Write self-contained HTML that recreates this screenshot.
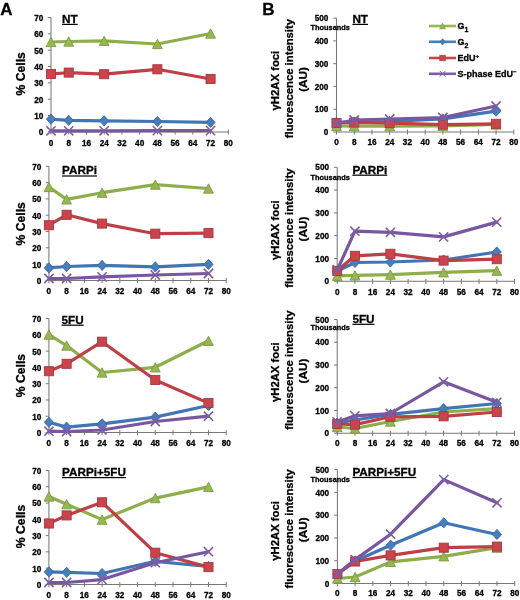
<!DOCTYPE html>
<html><head><meta charset="utf-8"><style>
html,body{margin:0;padding:0;background:#fff;width:520px;height:600px;overflow:hidden}
svg{display:block;filter:blur(0.35px)}
</style></head><body>
<svg width="520" height="600" viewBox="0 0 520 600">
<rect width="520" height="600" fill="#fff"/>
<g id="underlines" fill="#000">
<rect x="62.10" y="23.80" width="15.60" height="1.2"/>
<rect x="62.10" y="175.40" width="34.89" height="1.2"/>
<rect x="61.60" y="324.60" width="22.10" height="1.2"/>
<rect x="62.10" y="477.00" width="63.82" height="1.2"/>
<rect x="352.40" y="23.80" width="15.60" height="1.2"/>
<rect x="352.40" y="174.60" width="34.89" height="1.2"/>
<rect x="352.40" y="323.70" width="22.10" height="1.2"/>
<rect x="352.40" y="476.90" width="63.82" height="1.2"/>
</g>
<text x="0.3" y="15.3" font-family="&apos;Liberation Sans&apos;, sans-serif" font-weight="bold" stroke="#000" stroke-width="0.3" font-size="17">A</text>
<text x="262.3" y="15.3" font-family="&apos;Liberation Sans&apos;, sans-serif" font-weight="bold" stroke="#000" stroke-width="0.3" font-size="17">B</text>
<path d="M51.00,17.50V131.90H228.30" stroke="#787878" stroke-width="1.05" fill="none"/>
<path d="M47.80,131.90H51.00 M47.80,115.56H51.00 M47.80,99.21H51.00 M47.80,82.87H51.00 M47.80,66.53H51.00 M47.80,50.19H51.00 M47.80,33.84H51.00 M47.80,17.50H51.00 M51.00,129.50V134.50 M68.73,129.50V134.50 M86.46,129.50V134.50 M104.19,129.50V134.50 M121.92,129.50V134.50 M139.65,129.50V134.50 M157.38,129.50V134.50 M175.11,129.50V134.50 M192.84,129.50V134.50 M210.57,129.50V134.50 M228.30,129.50V134.50" stroke="#787878" stroke-width="1.0" fill="none"/>
<text x="43.40" y="135.30" text-anchor="end" font-family="&apos;Liberation Sans&apos;, sans-serif" font-weight="bold" stroke="#000" stroke-width="0.3" font-size="8.2">0</text>
<text x="43.40" y="118.96" text-anchor="end" font-family="&apos;Liberation Sans&apos;, sans-serif" font-weight="bold" stroke="#000" stroke-width="0.3" font-size="8.2">10</text>
<text x="43.40" y="102.61" text-anchor="end" font-family="&apos;Liberation Sans&apos;, sans-serif" font-weight="bold" stroke="#000" stroke-width="0.3" font-size="8.2">20</text>
<text x="43.40" y="86.27" text-anchor="end" font-family="&apos;Liberation Sans&apos;, sans-serif" font-weight="bold" stroke="#000" stroke-width="0.3" font-size="8.2">30</text>
<text x="43.40" y="69.93" text-anchor="end" font-family="&apos;Liberation Sans&apos;, sans-serif" font-weight="bold" stroke="#000" stroke-width="0.3" font-size="8.2">40</text>
<text x="43.40" y="53.59" text-anchor="end" font-family="&apos;Liberation Sans&apos;, sans-serif" font-weight="bold" stroke="#000" stroke-width="0.3" font-size="8.2">50</text>
<text x="43.40" y="37.24" text-anchor="end" font-family="&apos;Liberation Sans&apos;, sans-serif" font-weight="bold" stroke="#000" stroke-width="0.3" font-size="8.2">60</text>
<text x="43.40" y="20.90" text-anchor="end" font-family="&apos;Liberation Sans&apos;, sans-serif" font-weight="bold" stroke="#000" stroke-width="0.3" font-size="8.2">70</text>
<text x="51.00" y="145.70" text-anchor="middle" font-family="&apos;Liberation Sans&apos;, sans-serif" font-weight="bold" stroke="#000" stroke-width="0.3" font-size="8.2">0</text>
<text x="68.73" y="145.70" text-anchor="middle" font-family="&apos;Liberation Sans&apos;, sans-serif" font-weight="bold" stroke="#000" stroke-width="0.3" font-size="8.2">8</text>
<text x="86.46" y="145.70" text-anchor="middle" font-family="&apos;Liberation Sans&apos;, sans-serif" font-weight="bold" stroke="#000" stroke-width="0.3" font-size="8.2">16</text>
<text x="104.19" y="145.70" text-anchor="middle" font-family="&apos;Liberation Sans&apos;, sans-serif" font-weight="bold" stroke="#000" stroke-width="0.3" font-size="8.2">24</text>
<text x="121.92" y="145.70" text-anchor="middle" font-family="&apos;Liberation Sans&apos;, sans-serif" font-weight="bold" stroke="#000" stroke-width="0.3" font-size="8.2">32</text>
<text x="139.65" y="145.70" text-anchor="middle" font-family="&apos;Liberation Sans&apos;, sans-serif" font-weight="bold" stroke="#000" stroke-width="0.3" font-size="8.2">40</text>
<text x="157.38" y="145.70" text-anchor="middle" font-family="&apos;Liberation Sans&apos;, sans-serif" font-weight="bold" stroke="#000" stroke-width="0.3" font-size="8.2">48</text>
<text x="175.11" y="145.70" text-anchor="middle" font-family="&apos;Liberation Sans&apos;, sans-serif" font-weight="bold" stroke="#000" stroke-width="0.3" font-size="8.2">56</text>
<text x="192.84" y="145.70" text-anchor="middle" font-family="&apos;Liberation Sans&apos;, sans-serif" font-weight="bold" stroke="#000" stroke-width="0.3" font-size="8.2">64</text>
<text x="210.57" y="145.70" text-anchor="middle" font-family="&apos;Liberation Sans&apos;, sans-serif" font-weight="bold" stroke="#000" stroke-width="0.3" font-size="8.2">72</text>
<text x="228.30" y="145.70" text-anchor="middle" font-family="&apos;Liberation Sans&apos;, sans-serif" font-weight="bold" stroke="#000" stroke-width="0.3" font-size="8.2">80</text>
<text x="62.10" y="22.70" font-family="&apos;Liberation Sans&apos;, sans-serif" font-weight="bold" stroke="#000" stroke-width="0.3" font-size="11.7">NT</text>
<path d="M51.00,42.00 L68.73,41.50 L104.19,40.80 L157.38,44.00 L210.57,33.50" stroke="#8eae4c" stroke-width="3.2" fill="none" stroke-linejoin="round" stroke-linecap="round"/>
<polygon points="46.10,46.65 55.90,46.65 51.00,37.35" fill="#95b853" stroke="#7d9c3f" stroke-width="0.90" stroke-linejoin="miter"/>
<polygon points="63.83,46.15 73.63,46.15 68.73,36.85" fill="#95b853" stroke="#7d9c3f" stroke-width="0.90" stroke-linejoin="miter"/>
<polygon points="99.29,45.45 109.09,45.45 104.19,36.15" fill="#95b853" stroke="#7d9c3f" stroke-width="0.90" stroke-linejoin="miter"/>
<polygon points="152.48,48.65 162.28,48.65 157.38,39.35" fill="#95b853" stroke="#7d9c3f" stroke-width="0.90" stroke-linejoin="miter"/>
<polygon points="205.67,38.15 215.47,38.15 210.57,28.85" fill="#95b853" stroke="#7d9c3f" stroke-width="0.90" stroke-linejoin="miter"/>
<path d="M51.00,119.20 L68.73,120.40 L104.19,120.80 L157.38,121.50 L210.57,122.30" stroke="#4275b6" stroke-width="3.2" fill="none" stroke-linejoin="round" stroke-linecap="round"/>
<polygon points="51.00,114.10 55.60,119.20 51.00,124.30 46.40,119.20" fill="#477dbd" stroke="#3a6aa6" stroke-width="0.90"/>
<polygon points="68.73,115.30 73.33,120.40 68.73,125.50 64.13,120.40" fill="#477dbd" stroke="#3a6aa6" stroke-width="0.90"/>
<polygon points="104.19,115.70 108.79,120.80 104.19,125.90 99.59,120.80" fill="#477dbd" stroke="#3a6aa6" stroke-width="0.90"/>
<polygon points="157.38,116.40 161.98,121.50 157.38,126.60 152.78,121.50" fill="#477dbd" stroke="#3a6aa6" stroke-width="0.90"/>
<polygon points="210.57,117.20 215.17,122.30 210.57,127.40 205.97,122.30" fill="#477dbd" stroke="#3a6aa6" stroke-width="0.90"/>
<path d="M51.00,74.00 L68.73,72.60 L104.19,74.20 L157.38,69.30 L210.57,79.00" stroke="#bf3f47" stroke-width="3.2" fill="none" stroke-linejoin="round" stroke-linecap="round"/>
<rect x="46.45" y="69.45" width="9.10" height="9.10" fill="#c9444b" stroke="#a9383d" stroke-width="0.90"/>
<rect x="64.18" y="68.05" width="9.10" height="9.10" fill="#c9444b" stroke="#a9383d" stroke-width="0.90"/>
<rect x="99.64" y="69.65" width="9.10" height="9.10" fill="#c9444b" stroke="#a9383d" stroke-width="0.90"/>
<rect x="152.83" y="64.75" width="9.10" height="9.10" fill="#c9444b" stroke="#a9383d" stroke-width="0.90"/>
<rect x="206.02" y="74.45" width="9.10" height="9.10" fill="#c9444b" stroke="#a9383d" stroke-width="0.90"/>
<path d="M51.00,130.80 L68.73,130.80 L104.19,130.80 L157.38,130.60 L210.57,130.60" stroke="#7857a0" stroke-width="3.2" fill="none" stroke-linejoin="round" stroke-linecap="round"/>
<path d="M46.40,126.20L55.60,135.40M55.60,126.20L46.40,135.40" stroke="#7d5ea5" stroke-width="1.60" fill="none"/>
<path d="M64.13,126.20L73.33,135.40M73.33,126.20L64.13,135.40" stroke="#7d5ea5" stroke-width="1.60" fill="none"/>
<path d="M99.59,126.20L108.79,135.40M108.79,126.20L99.59,135.40" stroke="#7d5ea5" stroke-width="1.60" fill="none"/>
<path d="M152.78,126.00L161.98,135.20M161.98,126.00L152.78,135.20" stroke="#7d5ea5" stroke-width="1.60" fill="none"/>
<path d="M205.97,126.00L215.17,135.20M215.17,126.00L205.97,135.20" stroke="#7d5ea5" stroke-width="1.60" fill="none"/>
<text transform="translate(25.2,73.80) rotate(-90)" text-anchor="middle" font-family="&apos;Liberation Sans&apos;, sans-serif" font-weight="bold" stroke="#000" stroke-width="0.3" font-size="12.2">% Cells</text>
<path d="M48.90,166.30V280.40H226.20" stroke="#787878" stroke-width="1.05" fill="none"/>
<path d="M45.70,280.40H48.90 M45.70,264.10H48.90 M45.70,247.80H48.90 M45.70,231.50H48.90 M45.70,215.20H48.90 M45.70,198.90H48.90 M45.70,182.60H48.90 M45.70,166.30H48.90 M48.90,278.00V283.00 M66.63,278.00V283.00 M84.36,278.00V283.00 M102.09,278.00V283.00 M119.82,278.00V283.00 M137.55,278.00V283.00 M155.28,278.00V283.00 M173.01,278.00V283.00 M190.74,278.00V283.00 M208.47,278.00V283.00 M226.20,278.00V283.00" stroke="#787878" stroke-width="1.0" fill="none"/>
<text x="41.30" y="283.80" text-anchor="end" font-family="&apos;Liberation Sans&apos;, sans-serif" font-weight="bold" stroke="#000" stroke-width="0.3" font-size="8.2">0</text>
<text x="41.30" y="267.50" text-anchor="end" font-family="&apos;Liberation Sans&apos;, sans-serif" font-weight="bold" stroke="#000" stroke-width="0.3" font-size="8.2">10</text>
<text x="41.30" y="251.20" text-anchor="end" font-family="&apos;Liberation Sans&apos;, sans-serif" font-weight="bold" stroke="#000" stroke-width="0.3" font-size="8.2">20</text>
<text x="41.30" y="234.90" text-anchor="end" font-family="&apos;Liberation Sans&apos;, sans-serif" font-weight="bold" stroke="#000" stroke-width="0.3" font-size="8.2">30</text>
<text x="41.30" y="218.60" text-anchor="end" font-family="&apos;Liberation Sans&apos;, sans-serif" font-weight="bold" stroke="#000" stroke-width="0.3" font-size="8.2">40</text>
<text x="41.30" y="202.30" text-anchor="end" font-family="&apos;Liberation Sans&apos;, sans-serif" font-weight="bold" stroke="#000" stroke-width="0.3" font-size="8.2">50</text>
<text x="41.30" y="186.00" text-anchor="end" font-family="&apos;Liberation Sans&apos;, sans-serif" font-weight="bold" stroke="#000" stroke-width="0.3" font-size="8.2">60</text>
<text x="41.30" y="169.70" text-anchor="end" font-family="&apos;Liberation Sans&apos;, sans-serif" font-weight="bold" stroke="#000" stroke-width="0.3" font-size="8.2">70</text>
<text x="48.90" y="293.65" text-anchor="middle" font-family="&apos;Liberation Sans&apos;, sans-serif" font-weight="bold" stroke="#000" stroke-width="0.3" font-size="8.2">0</text>
<text x="66.63" y="293.65" text-anchor="middle" font-family="&apos;Liberation Sans&apos;, sans-serif" font-weight="bold" stroke="#000" stroke-width="0.3" font-size="8.2">8</text>
<text x="84.36" y="293.65" text-anchor="middle" font-family="&apos;Liberation Sans&apos;, sans-serif" font-weight="bold" stroke="#000" stroke-width="0.3" font-size="8.2">16</text>
<text x="102.09" y="293.65" text-anchor="middle" font-family="&apos;Liberation Sans&apos;, sans-serif" font-weight="bold" stroke="#000" stroke-width="0.3" font-size="8.2">24</text>
<text x="119.82" y="293.65" text-anchor="middle" font-family="&apos;Liberation Sans&apos;, sans-serif" font-weight="bold" stroke="#000" stroke-width="0.3" font-size="8.2">32</text>
<text x="137.55" y="293.65" text-anchor="middle" font-family="&apos;Liberation Sans&apos;, sans-serif" font-weight="bold" stroke="#000" stroke-width="0.3" font-size="8.2">40</text>
<text x="155.28" y="293.65" text-anchor="middle" font-family="&apos;Liberation Sans&apos;, sans-serif" font-weight="bold" stroke="#000" stroke-width="0.3" font-size="8.2">48</text>
<text x="173.01" y="293.65" text-anchor="middle" font-family="&apos;Liberation Sans&apos;, sans-serif" font-weight="bold" stroke="#000" stroke-width="0.3" font-size="8.2">56</text>
<text x="190.74" y="293.65" text-anchor="middle" font-family="&apos;Liberation Sans&apos;, sans-serif" font-weight="bold" stroke="#000" stroke-width="0.3" font-size="8.2">64</text>
<text x="208.47" y="293.65" text-anchor="middle" font-family="&apos;Liberation Sans&apos;, sans-serif" font-weight="bold" stroke="#000" stroke-width="0.3" font-size="8.2">72</text>
<text x="226.20" y="293.65" text-anchor="middle" font-family="&apos;Liberation Sans&apos;, sans-serif" font-weight="bold" stroke="#000" stroke-width="0.3" font-size="8.2">80</text>
<text x="62.10" y="174.40" font-family="&apos;Liberation Sans&apos;, sans-serif" font-weight="bold" stroke="#000" stroke-width="0.3" font-size="11.7">PARPi</text>
<path d="M48.90,187.00 L66.63,199.40 L102.09,192.70 L155.28,184.60 L208.47,188.50" stroke="#8eae4c" stroke-width="3.2" fill="none" stroke-linejoin="round" stroke-linecap="round"/>
<polygon points="44.00,191.65 53.80,191.65 48.90,182.35" fill="#95b853" stroke="#7d9c3f" stroke-width="0.90" stroke-linejoin="miter"/>
<polygon points="61.73,204.05 71.53,204.05 66.63,194.75" fill="#95b853" stroke="#7d9c3f" stroke-width="0.90" stroke-linejoin="miter"/>
<polygon points="97.19,197.35 106.99,197.35 102.09,188.05" fill="#95b853" stroke="#7d9c3f" stroke-width="0.90" stroke-linejoin="miter"/>
<polygon points="150.38,189.25 160.18,189.25 155.28,179.95" fill="#95b853" stroke="#7d9c3f" stroke-width="0.90" stroke-linejoin="miter"/>
<polygon points="203.57,193.15 213.37,193.15 208.47,183.85" fill="#95b853" stroke="#7d9c3f" stroke-width="0.90" stroke-linejoin="miter"/>
<path d="M48.90,267.90 L66.63,266.50 L102.09,265.40 L155.28,266.90 L208.47,264.40" stroke="#4275b6" stroke-width="3.2" fill="none" stroke-linejoin="round" stroke-linecap="round"/>
<polygon points="48.90,262.80 53.50,267.90 48.90,273.00 44.30,267.90" fill="#477dbd" stroke="#3a6aa6" stroke-width="0.90"/>
<polygon points="66.63,261.40 71.23,266.50 66.63,271.60 62.03,266.50" fill="#477dbd" stroke="#3a6aa6" stroke-width="0.90"/>
<polygon points="102.09,260.30 106.69,265.40 102.09,270.50 97.49,265.40" fill="#477dbd" stroke="#3a6aa6" stroke-width="0.90"/>
<polygon points="155.28,261.80 159.88,266.90 155.28,272.00 150.68,266.90" fill="#477dbd" stroke="#3a6aa6" stroke-width="0.90"/>
<polygon points="208.47,259.30 213.07,264.40 208.47,269.50 203.87,264.40" fill="#477dbd" stroke="#3a6aa6" stroke-width="0.90"/>
<path d="M48.90,225.20 L66.63,214.80 L102.09,223.60 L155.28,233.70 L208.47,233.10" stroke="#bf3f47" stroke-width="3.2" fill="none" stroke-linejoin="round" stroke-linecap="round"/>
<rect x="44.35" y="220.65" width="9.10" height="9.10" fill="#c9444b" stroke="#a9383d" stroke-width="0.90"/>
<rect x="62.08" y="210.25" width="9.10" height="9.10" fill="#c9444b" stroke="#a9383d" stroke-width="0.90"/>
<rect x="97.54" y="219.05" width="9.10" height="9.10" fill="#c9444b" stroke="#a9383d" stroke-width="0.90"/>
<rect x="150.73" y="229.15" width="9.10" height="9.10" fill="#c9444b" stroke="#a9383d" stroke-width="0.90"/>
<rect x="203.92" y="228.55" width="9.10" height="9.10" fill="#c9444b" stroke="#a9383d" stroke-width="0.90"/>
<path d="M48.90,278.50 L66.63,278.50 L102.09,276.90 L155.28,275.00 L208.47,273.50" stroke="#7857a0" stroke-width="3.2" fill="none" stroke-linejoin="round" stroke-linecap="round"/>
<path d="M44.30,273.90L53.50,283.10M53.50,273.90L44.30,283.10" stroke="#7d5ea5" stroke-width="1.60" fill="none"/>
<path d="M62.03,273.90L71.23,283.10M71.23,273.90L62.03,283.10" stroke="#7d5ea5" stroke-width="1.60" fill="none"/>
<path d="M97.49,272.30L106.69,281.50M106.69,272.30L97.49,281.50" stroke="#7d5ea5" stroke-width="1.60" fill="none"/>
<path d="M150.68,270.40L159.88,279.60M159.88,270.40L150.68,279.60" stroke="#7d5ea5" stroke-width="1.60" fill="none"/>
<path d="M203.87,268.90L213.07,278.10M213.07,268.90L203.87,278.10" stroke="#7d5ea5" stroke-width="1.60" fill="none"/>
<text transform="translate(25.2,223.80) rotate(-90)" text-anchor="middle" font-family="&apos;Liberation Sans&apos;, sans-serif" font-weight="bold" stroke="#000" stroke-width="0.3" font-size="12.2">% Cells</text>
<path d="M48.90,318.60V432.50H226.20" stroke="#787878" stroke-width="1.05" fill="none"/>
<path d="M45.70,432.50H48.90 M45.70,416.23H48.90 M45.70,399.96H48.90 M45.70,383.69H48.90 M45.70,367.41H48.90 M45.70,351.14H48.90 M45.70,334.87H48.90 M45.70,318.60H48.90 M48.90,430.10V435.10 M66.63,430.10V435.10 M84.36,430.10V435.10 M102.09,430.10V435.10 M119.82,430.10V435.10 M137.55,430.10V435.10 M155.28,430.10V435.10 M173.01,430.10V435.10 M190.74,430.10V435.10 M208.47,430.10V435.10 M226.20,430.10V435.10" stroke="#787878" stroke-width="1.0" fill="none"/>
<text x="41.30" y="435.90" text-anchor="end" font-family="&apos;Liberation Sans&apos;, sans-serif" font-weight="bold" stroke="#000" stroke-width="0.3" font-size="8.2">0</text>
<text x="41.30" y="419.63" text-anchor="end" font-family="&apos;Liberation Sans&apos;, sans-serif" font-weight="bold" stroke="#000" stroke-width="0.3" font-size="8.2">10</text>
<text x="41.30" y="403.36" text-anchor="end" font-family="&apos;Liberation Sans&apos;, sans-serif" font-weight="bold" stroke="#000" stroke-width="0.3" font-size="8.2">20</text>
<text x="41.30" y="387.09" text-anchor="end" font-family="&apos;Liberation Sans&apos;, sans-serif" font-weight="bold" stroke="#000" stroke-width="0.3" font-size="8.2">30</text>
<text x="41.30" y="370.81" text-anchor="end" font-family="&apos;Liberation Sans&apos;, sans-serif" font-weight="bold" stroke="#000" stroke-width="0.3" font-size="8.2">40</text>
<text x="41.30" y="354.54" text-anchor="end" font-family="&apos;Liberation Sans&apos;, sans-serif" font-weight="bold" stroke="#000" stroke-width="0.3" font-size="8.2">50</text>
<text x="41.30" y="338.27" text-anchor="end" font-family="&apos;Liberation Sans&apos;, sans-serif" font-weight="bold" stroke="#000" stroke-width="0.3" font-size="8.2">60</text>
<text x="41.30" y="322.00" text-anchor="end" font-family="&apos;Liberation Sans&apos;, sans-serif" font-weight="bold" stroke="#000" stroke-width="0.3" font-size="8.2">70</text>
<text x="48.90" y="445.90" text-anchor="middle" font-family="&apos;Liberation Sans&apos;, sans-serif" font-weight="bold" stroke="#000" stroke-width="0.3" font-size="8.2">0</text>
<text x="66.63" y="445.90" text-anchor="middle" font-family="&apos;Liberation Sans&apos;, sans-serif" font-weight="bold" stroke="#000" stroke-width="0.3" font-size="8.2">8</text>
<text x="84.36" y="445.90" text-anchor="middle" font-family="&apos;Liberation Sans&apos;, sans-serif" font-weight="bold" stroke="#000" stroke-width="0.3" font-size="8.2">16</text>
<text x="102.09" y="445.90" text-anchor="middle" font-family="&apos;Liberation Sans&apos;, sans-serif" font-weight="bold" stroke="#000" stroke-width="0.3" font-size="8.2">24</text>
<text x="119.82" y="445.90" text-anchor="middle" font-family="&apos;Liberation Sans&apos;, sans-serif" font-weight="bold" stroke="#000" stroke-width="0.3" font-size="8.2">32</text>
<text x="137.55" y="445.90" text-anchor="middle" font-family="&apos;Liberation Sans&apos;, sans-serif" font-weight="bold" stroke="#000" stroke-width="0.3" font-size="8.2">40</text>
<text x="155.28" y="445.90" text-anchor="middle" font-family="&apos;Liberation Sans&apos;, sans-serif" font-weight="bold" stroke="#000" stroke-width="0.3" font-size="8.2">48</text>
<text x="173.01" y="445.90" text-anchor="middle" font-family="&apos;Liberation Sans&apos;, sans-serif" font-weight="bold" stroke="#000" stroke-width="0.3" font-size="8.2">56</text>
<text x="190.74" y="445.90" text-anchor="middle" font-family="&apos;Liberation Sans&apos;, sans-serif" font-weight="bold" stroke="#000" stroke-width="0.3" font-size="8.2">64</text>
<text x="208.47" y="445.90" text-anchor="middle" font-family="&apos;Liberation Sans&apos;, sans-serif" font-weight="bold" stroke="#000" stroke-width="0.3" font-size="8.2">72</text>
<text x="226.20" y="445.90" text-anchor="middle" font-family="&apos;Liberation Sans&apos;, sans-serif" font-weight="bold" stroke="#000" stroke-width="0.3" font-size="8.2">80</text>
<text x="61.60" y="323.60" font-family="&apos;Liberation Sans&apos;, sans-serif" font-weight="bold" stroke="#000" stroke-width="0.3" font-size="11.7">5FU</text>
<path d="M48.90,334.60 L66.63,345.60 L102.09,372.50 L155.28,367.30 L208.47,340.80" stroke="#8eae4c" stroke-width="3.2" fill="none" stroke-linejoin="round" stroke-linecap="round"/>
<polygon points="44.00,339.25 53.80,339.25 48.90,329.95" fill="#95b853" stroke="#7d9c3f" stroke-width="0.90" stroke-linejoin="miter"/>
<polygon points="61.73,350.25 71.53,350.25 66.63,340.95" fill="#95b853" stroke="#7d9c3f" stroke-width="0.90" stroke-linejoin="miter"/>
<polygon points="97.19,377.15 106.99,377.15 102.09,367.85" fill="#95b853" stroke="#7d9c3f" stroke-width="0.90" stroke-linejoin="miter"/>
<polygon points="150.38,371.95 160.18,371.95 155.28,362.65" fill="#95b853" stroke="#7d9c3f" stroke-width="0.90" stroke-linejoin="miter"/>
<polygon points="203.57,345.45 213.37,345.45 208.47,336.15" fill="#95b853" stroke="#7d9c3f" stroke-width="0.90" stroke-linejoin="miter"/>
<path d="M48.90,422.30 L66.63,427.10 L102.09,423.80 L155.28,417.10 L208.47,405.50" stroke="#4275b6" stroke-width="3.2" fill="none" stroke-linejoin="round" stroke-linecap="round"/>
<polygon points="48.90,417.20 53.50,422.30 48.90,427.40 44.30,422.30" fill="#477dbd" stroke="#3a6aa6" stroke-width="0.90"/>
<polygon points="66.63,422.00 71.23,427.10 66.63,432.20 62.03,427.10" fill="#477dbd" stroke="#3a6aa6" stroke-width="0.90"/>
<polygon points="102.09,418.70 106.69,423.80 102.09,428.90 97.49,423.80" fill="#477dbd" stroke="#3a6aa6" stroke-width="0.90"/>
<polygon points="155.28,412.00 159.88,417.10 155.28,422.20 150.68,417.10" fill="#477dbd" stroke="#3a6aa6" stroke-width="0.90"/>
<polygon points="208.47,400.40 213.07,405.50 208.47,410.60 203.87,405.50" fill="#477dbd" stroke="#3a6aa6" stroke-width="0.90"/>
<path d="M48.90,371.20 L66.63,363.80 L102.09,341.70 L155.28,380.00 L208.47,403.10" stroke="#bf3f47" stroke-width="3.2" fill="none" stroke-linejoin="round" stroke-linecap="round"/>
<rect x="44.35" y="366.65" width="9.10" height="9.10" fill="#c9444b" stroke="#a9383d" stroke-width="0.90"/>
<rect x="62.08" y="359.25" width="9.10" height="9.10" fill="#c9444b" stroke="#a9383d" stroke-width="0.90"/>
<rect x="97.54" y="337.15" width="9.10" height="9.10" fill="#c9444b" stroke="#a9383d" stroke-width="0.90"/>
<rect x="150.73" y="375.45" width="9.10" height="9.10" fill="#c9444b" stroke="#a9383d" stroke-width="0.90"/>
<rect x="203.92" y="398.55" width="9.10" height="9.10" fill="#c9444b" stroke="#a9383d" stroke-width="0.90"/>
<path d="M48.90,431.20 L66.63,431.50 L102.09,430.00 L155.28,421.50 L208.47,416.20" stroke="#7857a0" stroke-width="3.2" fill="none" stroke-linejoin="round" stroke-linecap="round"/>
<path d="M44.30,426.60L53.50,435.80M53.50,426.60L44.30,435.80" stroke="#7d5ea5" stroke-width="1.60" fill="none"/>
<path d="M62.03,426.90L71.23,436.10M71.23,426.90L62.03,436.10" stroke="#7d5ea5" stroke-width="1.60" fill="none"/>
<path d="M97.49,425.40L106.69,434.60M106.69,425.40L97.49,434.60" stroke="#7d5ea5" stroke-width="1.60" fill="none"/>
<path d="M150.68,416.90L159.88,426.10M159.88,416.90L150.68,426.10" stroke="#7d5ea5" stroke-width="1.60" fill="none"/>
<path d="M203.87,411.60L213.07,420.80M213.07,411.60L203.87,420.80" stroke="#7d5ea5" stroke-width="1.60" fill="none"/>
<text transform="translate(25.2,375.60) rotate(-90)" text-anchor="middle" font-family="&apos;Liberation Sans&apos;, sans-serif" font-weight="bold" stroke="#000" stroke-width="0.3" font-size="12.2">% Cells</text>
<path d="M48.90,470.50V584.40H226.20" stroke="#787878" stroke-width="1.05" fill="none"/>
<path d="M45.70,584.40H48.90 M45.70,568.13H48.90 M45.70,551.86H48.90 M45.70,535.59H48.90 M45.70,519.31H48.90 M45.70,503.04H48.90 M45.70,486.77H48.90 M45.70,470.50H48.90 M48.90,582.00V587.00 M66.63,582.00V587.00 M84.36,582.00V587.00 M102.09,582.00V587.00 M119.82,582.00V587.00 M137.55,582.00V587.00 M155.28,582.00V587.00 M173.01,582.00V587.00 M190.74,582.00V587.00 M208.47,582.00V587.00 M226.20,582.00V587.00" stroke="#787878" stroke-width="1.0" fill="none"/>
<text x="41.30" y="587.80" text-anchor="end" font-family="&apos;Liberation Sans&apos;, sans-serif" font-weight="bold" stroke="#000" stroke-width="0.3" font-size="8.2">0</text>
<text x="41.30" y="571.53" text-anchor="end" font-family="&apos;Liberation Sans&apos;, sans-serif" font-weight="bold" stroke="#000" stroke-width="0.3" font-size="8.2">10</text>
<text x="41.30" y="555.26" text-anchor="end" font-family="&apos;Liberation Sans&apos;, sans-serif" font-weight="bold" stroke="#000" stroke-width="0.3" font-size="8.2">20</text>
<text x="41.30" y="538.99" text-anchor="end" font-family="&apos;Liberation Sans&apos;, sans-serif" font-weight="bold" stroke="#000" stroke-width="0.3" font-size="8.2">30</text>
<text x="41.30" y="522.71" text-anchor="end" font-family="&apos;Liberation Sans&apos;, sans-serif" font-weight="bold" stroke="#000" stroke-width="0.3" font-size="8.2">40</text>
<text x="41.30" y="506.44" text-anchor="end" font-family="&apos;Liberation Sans&apos;, sans-serif" font-weight="bold" stroke="#000" stroke-width="0.3" font-size="8.2">50</text>
<text x="41.30" y="490.17" text-anchor="end" font-family="&apos;Liberation Sans&apos;, sans-serif" font-weight="bold" stroke="#000" stroke-width="0.3" font-size="8.2">60</text>
<text x="41.30" y="473.90" text-anchor="end" font-family="&apos;Liberation Sans&apos;, sans-serif" font-weight="bold" stroke="#000" stroke-width="0.3" font-size="8.2">70</text>
<text x="48.90" y="597.60" text-anchor="middle" font-family="&apos;Liberation Sans&apos;, sans-serif" font-weight="bold" stroke="#000" stroke-width="0.3" font-size="8.2">0</text>
<text x="66.63" y="597.60" text-anchor="middle" font-family="&apos;Liberation Sans&apos;, sans-serif" font-weight="bold" stroke="#000" stroke-width="0.3" font-size="8.2">8</text>
<text x="84.36" y="597.60" text-anchor="middle" font-family="&apos;Liberation Sans&apos;, sans-serif" font-weight="bold" stroke="#000" stroke-width="0.3" font-size="8.2">16</text>
<text x="102.09" y="597.60" text-anchor="middle" font-family="&apos;Liberation Sans&apos;, sans-serif" font-weight="bold" stroke="#000" stroke-width="0.3" font-size="8.2">24</text>
<text x="119.82" y="597.60" text-anchor="middle" font-family="&apos;Liberation Sans&apos;, sans-serif" font-weight="bold" stroke="#000" stroke-width="0.3" font-size="8.2">32</text>
<text x="137.55" y="597.60" text-anchor="middle" font-family="&apos;Liberation Sans&apos;, sans-serif" font-weight="bold" stroke="#000" stroke-width="0.3" font-size="8.2">40</text>
<text x="155.28" y="597.60" text-anchor="middle" font-family="&apos;Liberation Sans&apos;, sans-serif" font-weight="bold" stroke="#000" stroke-width="0.3" font-size="8.2">48</text>
<text x="173.01" y="597.60" text-anchor="middle" font-family="&apos;Liberation Sans&apos;, sans-serif" font-weight="bold" stroke="#000" stroke-width="0.3" font-size="8.2">56</text>
<text x="190.74" y="597.60" text-anchor="middle" font-family="&apos;Liberation Sans&apos;, sans-serif" font-weight="bold" stroke="#000" stroke-width="0.3" font-size="8.2">64</text>
<text x="208.47" y="597.60" text-anchor="middle" font-family="&apos;Liberation Sans&apos;, sans-serif" font-weight="bold" stroke="#000" stroke-width="0.3" font-size="8.2">72</text>
<text x="226.20" y="597.60" text-anchor="middle" font-family="&apos;Liberation Sans&apos;, sans-serif" font-weight="bold" stroke="#000" stroke-width="0.3" font-size="8.2">80</text>
<text x="62.10" y="475.80" font-family="&apos;Liberation Sans&apos;, sans-serif" font-weight="bold" stroke="#000" stroke-width="0.3" font-size="11.7">PARPi+5FU</text>
<path d="M48.90,496.50 L66.63,504.20 L102.09,519.60 L155.28,498.10 L208.47,486.90" stroke="#8eae4c" stroke-width="3.2" fill="none" stroke-linejoin="round" stroke-linecap="round"/>
<polygon points="44.00,501.15 53.80,501.15 48.90,491.85" fill="#95b853" stroke="#7d9c3f" stroke-width="0.90" stroke-linejoin="miter"/>
<polygon points="61.73,508.85 71.53,508.85 66.63,499.55" fill="#95b853" stroke="#7d9c3f" stroke-width="0.90" stroke-linejoin="miter"/>
<polygon points="97.19,524.25 106.99,524.25 102.09,514.95" fill="#95b853" stroke="#7d9c3f" stroke-width="0.90" stroke-linejoin="miter"/>
<polygon points="150.38,502.75 160.18,502.75 155.28,493.45" fill="#95b853" stroke="#7d9c3f" stroke-width="0.90" stroke-linejoin="miter"/>
<polygon points="203.57,491.55 213.37,491.55 208.47,482.25" fill="#95b853" stroke="#7d9c3f" stroke-width="0.90" stroke-linejoin="miter"/>
<path d="M48.90,571.90 L66.63,572.30 L102.09,573.50 L155.28,561.30 L208.47,566.50" stroke="#4275b6" stroke-width="3.2" fill="none" stroke-linejoin="round" stroke-linecap="round"/>
<polygon points="48.90,566.80 53.50,571.90 48.90,577.00 44.30,571.90" fill="#477dbd" stroke="#3a6aa6" stroke-width="0.90"/>
<polygon points="66.63,567.20 71.23,572.30 66.63,577.40 62.03,572.30" fill="#477dbd" stroke="#3a6aa6" stroke-width="0.90"/>
<polygon points="102.09,568.40 106.69,573.50 102.09,578.60 97.49,573.50" fill="#477dbd" stroke="#3a6aa6" stroke-width="0.90"/>
<polygon points="155.28,556.20 159.88,561.30 155.28,566.40 150.68,561.30" fill="#477dbd" stroke="#3a6aa6" stroke-width="0.90"/>
<polygon points="208.47,561.40 213.07,566.50 208.47,571.60 203.87,566.50" fill="#477dbd" stroke="#3a6aa6" stroke-width="0.90"/>
<path d="M48.90,523.50 L66.63,515.40 L102.09,502.30 L155.28,552.70 L208.47,567.10" stroke="#bf3f47" stroke-width="3.2" fill="none" stroke-linejoin="round" stroke-linecap="round"/>
<rect x="44.35" y="518.95" width="9.10" height="9.10" fill="#c9444b" stroke="#a9383d" stroke-width="0.90"/>
<rect x="62.08" y="510.85" width="9.10" height="9.10" fill="#c9444b" stroke="#a9383d" stroke-width="0.90"/>
<rect x="97.54" y="497.75" width="9.10" height="9.10" fill="#c9444b" stroke="#a9383d" stroke-width="0.90"/>
<rect x="150.73" y="548.15" width="9.10" height="9.10" fill="#c9444b" stroke="#a9383d" stroke-width="0.90"/>
<rect x="203.92" y="562.55" width="9.10" height="9.10" fill="#c9444b" stroke="#a9383d" stroke-width="0.90"/>
<path d="M48.90,582.50 L66.63,582.50 L102.09,579.60 L155.28,562.70 L208.47,551.70" stroke="#7857a0" stroke-width="3.2" fill="none" stroke-linejoin="round" stroke-linecap="round"/>
<path d="M44.30,577.90L53.50,587.10M53.50,577.90L44.30,587.10" stroke="#7d5ea5" stroke-width="1.60" fill="none"/>
<path d="M62.03,577.90L71.23,587.10M71.23,577.90L62.03,587.10" stroke="#7d5ea5" stroke-width="1.60" fill="none"/>
<path d="M97.49,575.00L106.69,584.20M106.69,575.00L97.49,584.20" stroke="#7d5ea5" stroke-width="1.60" fill="none"/>
<path d="M150.68,558.10L159.88,567.30M159.88,558.10L150.68,567.30" stroke="#7d5ea5" stroke-width="1.60" fill="none"/>
<path d="M203.87,547.10L213.07,556.30M213.07,547.10L203.87,556.30" stroke="#7d5ea5" stroke-width="1.60" fill="none"/>
<text transform="translate(25.2,526.50) rotate(-90)" text-anchor="middle" font-family="&apos;Liberation Sans&apos;, sans-serif" font-weight="bold" stroke="#000" stroke-width="0.3" font-size="12.2">% Cells</text>
<path d="M336.50,18.10V132.00H513.80" stroke="#787878" stroke-width="1.05" fill="none"/>
<path d="M333.30,132.00H336.50 M333.30,109.22H336.50 M333.30,86.44H336.50 M333.30,63.66H336.50 M333.30,40.88H336.50 M333.30,18.10H336.50 M336.50,129.60V134.60 M354.23,129.60V134.60 M371.96,129.60V134.60 M389.69,129.60V134.60 M407.42,129.60V134.60 M425.15,129.60V134.60 M442.88,129.60V134.60 M460.61,129.60V134.60 M478.34,129.60V134.60 M496.07,129.60V134.60 M513.80,129.60V134.60" stroke="#787878" stroke-width="1.0" fill="none"/>
<text x="328.30" y="135.15" text-anchor="end" font-family="&apos;Liberation Sans&apos;, sans-serif" font-weight="bold" stroke="#000" stroke-width="0.3" font-size="8.2">0</text>
<text x="328.30" y="112.37" text-anchor="end" font-family="&apos;Liberation Sans&apos;, sans-serif" font-weight="bold" stroke="#000" stroke-width="0.3" font-size="8.2">100</text>
<text x="328.30" y="89.59" text-anchor="end" font-family="&apos;Liberation Sans&apos;, sans-serif" font-weight="bold" stroke="#000" stroke-width="0.3" font-size="8.2">200</text>
<text x="328.30" y="66.81" text-anchor="end" font-family="&apos;Liberation Sans&apos;, sans-serif" font-weight="bold" stroke="#000" stroke-width="0.3" font-size="8.2">300</text>
<text x="328.30" y="44.03" text-anchor="end" font-family="&apos;Liberation Sans&apos;, sans-serif" font-weight="bold" stroke="#000" stroke-width="0.3" font-size="8.2">400</text>
<text x="328.30" y="21.25" text-anchor="end" font-family="&apos;Liberation Sans&apos;, sans-serif" font-weight="bold" stroke="#000" stroke-width="0.3" font-size="8.2">500</text>
<text x="336.50" y="145.10" text-anchor="middle" font-family="&apos;Liberation Sans&apos;, sans-serif" font-weight="bold" stroke="#000" stroke-width="0.3" font-size="8.2">0</text>
<text x="354.23" y="145.10" text-anchor="middle" font-family="&apos;Liberation Sans&apos;, sans-serif" font-weight="bold" stroke="#000" stroke-width="0.3" font-size="8.2">8</text>
<text x="371.96" y="145.10" text-anchor="middle" font-family="&apos;Liberation Sans&apos;, sans-serif" font-weight="bold" stroke="#000" stroke-width="0.3" font-size="8.2">16</text>
<text x="389.69" y="145.10" text-anchor="middle" font-family="&apos;Liberation Sans&apos;, sans-serif" font-weight="bold" stroke="#000" stroke-width="0.3" font-size="8.2">24</text>
<text x="407.42" y="145.10" text-anchor="middle" font-family="&apos;Liberation Sans&apos;, sans-serif" font-weight="bold" stroke="#000" stroke-width="0.3" font-size="8.2">32</text>
<text x="425.15" y="145.10" text-anchor="middle" font-family="&apos;Liberation Sans&apos;, sans-serif" font-weight="bold" stroke="#000" stroke-width="0.3" font-size="8.2">40</text>
<text x="442.88" y="145.10" text-anchor="middle" font-family="&apos;Liberation Sans&apos;, sans-serif" font-weight="bold" stroke="#000" stroke-width="0.3" font-size="8.2">48</text>
<text x="460.61" y="145.10" text-anchor="middle" font-family="&apos;Liberation Sans&apos;, sans-serif" font-weight="bold" stroke="#000" stroke-width="0.3" font-size="8.2">56</text>
<text x="478.34" y="145.10" text-anchor="middle" font-family="&apos;Liberation Sans&apos;, sans-serif" font-weight="bold" stroke="#000" stroke-width="0.3" font-size="8.2">64</text>
<text x="496.07" y="145.10" text-anchor="middle" font-family="&apos;Liberation Sans&apos;, sans-serif" font-weight="bold" stroke="#000" stroke-width="0.3" font-size="8.2">72</text>
<text x="513.80" y="145.10" text-anchor="middle" font-family="&apos;Liberation Sans&apos;, sans-serif" font-weight="bold" stroke="#000" stroke-width="0.3" font-size="8.2">80</text>
<text x="352.40" y="22.70" font-family="&apos;Liberation Sans&apos;, sans-serif" font-weight="bold" stroke="#000" stroke-width="0.3" font-size="11.7">NT</text>
<path d="M336.50,126.00 L354.23,126.20 L389.69,126.20 L442.88,125.80 L496.07,124.50" stroke="#8eae4c" stroke-width="3.2" fill="none" stroke-linejoin="round" stroke-linecap="round"/>
<polygon points="331.60,130.65 341.40,130.65 336.50,121.35" fill="#95b853" stroke="#7d9c3f" stroke-width="0.90" stroke-linejoin="miter"/>
<polygon points="349.33,130.85 359.13,130.85 354.23,121.55" fill="#95b853" stroke="#7d9c3f" stroke-width="0.90" stroke-linejoin="miter"/>
<polygon points="384.79,130.85 394.59,130.85 389.69,121.55" fill="#95b853" stroke="#7d9c3f" stroke-width="0.90" stroke-linejoin="miter"/>
<polygon points="437.98,130.45 447.78,130.45 442.88,121.15" fill="#95b853" stroke="#7d9c3f" stroke-width="0.90" stroke-linejoin="miter"/>
<polygon points="491.17,129.15 500.97,129.15 496.07,119.85" fill="#95b853" stroke="#7d9c3f" stroke-width="0.90" stroke-linejoin="miter"/>
<path d="M336.50,122.30 L354.23,122.00 L389.69,121.50 L442.88,118.90 L496.07,111.20" stroke="#4275b6" stroke-width="3.2" fill="none" stroke-linejoin="round" stroke-linecap="round"/>
<polygon points="336.50,117.20 341.10,122.30 336.50,127.40 331.90,122.30" fill="#477dbd" stroke="#3a6aa6" stroke-width="0.90"/>
<polygon points="354.23,116.90 358.83,122.00 354.23,127.10 349.63,122.00" fill="#477dbd" stroke="#3a6aa6" stroke-width="0.90"/>
<polygon points="389.69,116.40 394.29,121.50 389.69,126.60 385.09,121.50" fill="#477dbd" stroke="#3a6aa6" stroke-width="0.90"/>
<polygon points="442.88,113.80 447.48,118.90 442.88,124.00 438.28,118.90" fill="#477dbd" stroke="#3a6aa6" stroke-width="0.90"/>
<polygon points="496.07,106.10 500.67,111.20 496.07,116.30 491.47,111.20" fill="#477dbd" stroke="#3a6aa6" stroke-width="0.90"/>
<path d="M336.50,123.00 L354.23,122.50 L389.69,123.20 L442.88,124.60 L496.07,123.80" stroke="#bf3f47" stroke-width="3.2" fill="none" stroke-linejoin="round" stroke-linecap="round"/>
<rect x="331.95" y="118.45" width="9.10" height="9.10" fill="#c9444b" stroke="#a9383d" stroke-width="0.90"/>
<rect x="349.68" y="117.95" width="9.10" height="9.10" fill="#c9444b" stroke="#a9383d" stroke-width="0.90"/>
<rect x="385.14" y="118.65" width="9.10" height="9.10" fill="#c9444b" stroke="#a9383d" stroke-width="0.90"/>
<rect x="438.33" y="120.05" width="9.10" height="9.10" fill="#c9444b" stroke="#a9383d" stroke-width="0.90"/>
<rect x="491.52" y="119.25" width="9.10" height="9.10" fill="#c9444b" stroke="#a9383d" stroke-width="0.90"/>
<path d="M336.50,123.50 L354.23,120.00 L389.69,119.00 L442.88,117.50 L496.07,106.00" stroke="#7857a0" stroke-width="3.2" fill="none" stroke-linejoin="round" stroke-linecap="round"/>
<path d="M331.90,118.90L341.10,128.10M341.10,118.90L331.90,128.10" stroke="#7d5ea5" stroke-width="1.60" fill="none"/>
<path d="M349.63,115.40L358.83,124.60M358.83,115.40L349.63,124.60" stroke="#7d5ea5" stroke-width="1.60" fill="none"/>
<path d="M385.09,114.40L394.29,123.60M394.29,114.40L385.09,123.60" stroke="#7d5ea5" stroke-width="1.60" fill="none"/>
<path d="M438.28,112.90L447.48,122.10M447.48,112.90L438.28,122.10" stroke="#7d5ea5" stroke-width="1.60" fill="none"/>
<path d="M491.47,101.40L500.67,110.60M500.67,101.40L491.47,110.60" stroke="#7d5ea5" stroke-width="1.60" fill="none"/>
<text x="330.2" y="30.40" text-anchor="middle" font-family="&apos;Liberation Sans&apos;, sans-serif" font-weight="bold" stroke="#000" stroke-width="0.3" font-size="7.4">Thousands</text>
<g transform="translate(0,78.60)"><text transform="translate(279.1,2) rotate(-90)" text-anchor="middle" font-family="&apos;Liberation Sans&apos;, sans-serif" font-weight="bold" stroke="#000" stroke-width="0.3" font-size="11.3">γH2AX foci</text><text transform="translate(292.6,0) rotate(-90)" text-anchor="middle" font-family="&apos;Liberation Sans&apos;, sans-serif" font-weight="bold" stroke="#000" stroke-width="0.3" font-size="11.3">fluorescence intensity</text><text transform="translate(307.4,0.8) rotate(-90)" text-anchor="middle" font-family="&apos;Liberation Sans&apos;, sans-serif" font-weight="bold" stroke="#000" stroke-width="0.3" font-size="11.8">(AU)</text></g>
<path d="M337.20,167.30V281.30H514.50" stroke="#787878" stroke-width="1.05" fill="none"/>
<path d="M334.00,281.30H337.20 M334.00,258.50H337.20 M334.00,235.70H337.20 M334.00,212.90H337.20 M334.00,190.10H337.20 M334.00,167.30H337.20 M337.20,278.90V283.90 M354.93,278.90V283.90 M372.66,278.90V283.90 M390.39,278.90V283.90 M408.12,278.90V283.90 M425.85,278.90V283.90 M443.58,278.90V283.90 M461.31,278.90V283.90 M479.04,278.90V283.90 M496.77,278.90V283.90 M514.50,278.90V283.90" stroke="#787878" stroke-width="1.0" fill="none"/>
<text x="329.00" y="284.45" text-anchor="end" font-family="&apos;Liberation Sans&apos;, sans-serif" font-weight="bold" stroke="#000" stroke-width="0.3" font-size="8.2">0</text>
<text x="329.00" y="261.65" text-anchor="end" font-family="&apos;Liberation Sans&apos;, sans-serif" font-weight="bold" stroke="#000" stroke-width="0.3" font-size="8.2">100</text>
<text x="329.00" y="238.85" text-anchor="end" font-family="&apos;Liberation Sans&apos;, sans-serif" font-weight="bold" stroke="#000" stroke-width="0.3" font-size="8.2">200</text>
<text x="329.00" y="216.05" text-anchor="end" font-family="&apos;Liberation Sans&apos;, sans-serif" font-weight="bold" stroke="#000" stroke-width="0.3" font-size="8.2">300</text>
<text x="329.00" y="193.25" text-anchor="end" font-family="&apos;Liberation Sans&apos;, sans-serif" font-weight="bold" stroke="#000" stroke-width="0.3" font-size="8.2">400</text>
<text x="329.00" y="170.45" text-anchor="end" font-family="&apos;Liberation Sans&apos;, sans-serif" font-weight="bold" stroke="#000" stroke-width="0.3" font-size="8.2">500</text>
<text x="337.20" y="295.10" text-anchor="middle" font-family="&apos;Liberation Sans&apos;, sans-serif" font-weight="bold" stroke="#000" stroke-width="0.3" font-size="8.2">0</text>
<text x="354.93" y="295.10" text-anchor="middle" font-family="&apos;Liberation Sans&apos;, sans-serif" font-weight="bold" stroke="#000" stroke-width="0.3" font-size="8.2">8</text>
<text x="372.66" y="295.10" text-anchor="middle" font-family="&apos;Liberation Sans&apos;, sans-serif" font-weight="bold" stroke="#000" stroke-width="0.3" font-size="8.2">16</text>
<text x="390.39" y="295.10" text-anchor="middle" font-family="&apos;Liberation Sans&apos;, sans-serif" font-weight="bold" stroke="#000" stroke-width="0.3" font-size="8.2">24</text>
<text x="408.12" y="295.10" text-anchor="middle" font-family="&apos;Liberation Sans&apos;, sans-serif" font-weight="bold" stroke="#000" stroke-width="0.3" font-size="8.2">32</text>
<text x="425.85" y="295.10" text-anchor="middle" font-family="&apos;Liberation Sans&apos;, sans-serif" font-weight="bold" stroke="#000" stroke-width="0.3" font-size="8.2">40</text>
<text x="443.58" y="295.10" text-anchor="middle" font-family="&apos;Liberation Sans&apos;, sans-serif" font-weight="bold" stroke="#000" stroke-width="0.3" font-size="8.2">48</text>
<text x="461.31" y="295.10" text-anchor="middle" font-family="&apos;Liberation Sans&apos;, sans-serif" font-weight="bold" stroke="#000" stroke-width="0.3" font-size="8.2">56</text>
<text x="479.04" y="295.10" text-anchor="middle" font-family="&apos;Liberation Sans&apos;, sans-serif" font-weight="bold" stroke="#000" stroke-width="0.3" font-size="8.2">64</text>
<text x="496.77" y="295.10" text-anchor="middle" font-family="&apos;Liberation Sans&apos;, sans-serif" font-weight="bold" stroke="#000" stroke-width="0.3" font-size="8.2">72</text>
<text x="514.50" y="295.10" text-anchor="middle" font-family="&apos;Liberation Sans&apos;, sans-serif" font-weight="bold" stroke="#000" stroke-width="0.3" font-size="8.2">80</text>
<text x="352.40" y="173.60" font-family="&apos;Liberation Sans&apos;, sans-serif" font-weight="bold" stroke="#000" stroke-width="0.3" font-size="11.7">PARPi</text>
<path d="M337.20,275.80 L354.93,275.40 L390.39,274.60 L443.58,272.30 L496.77,270.70" stroke="#8eae4c" stroke-width="3.2" fill="none" stroke-linejoin="round" stroke-linecap="round"/>
<polygon points="332.30,280.45 342.10,280.45 337.20,271.15" fill="#95b853" stroke="#7d9c3f" stroke-width="0.90" stroke-linejoin="miter"/>
<polygon points="350.03,280.05 359.83,280.05 354.93,270.75" fill="#95b853" stroke="#7d9c3f" stroke-width="0.90" stroke-linejoin="miter"/>
<polygon points="385.49,279.25 395.29,279.25 390.39,269.95" fill="#95b853" stroke="#7d9c3f" stroke-width="0.90" stroke-linejoin="miter"/>
<polygon points="438.68,276.95 448.48,276.95 443.58,267.65" fill="#95b853" stroke="#7d9c3f" stroke-width="0.90" stroke-linejoin="miter"/>
<polygon points="491.87,275.35 501.67,275.35 496.77,266.05" fill="#95b853" stroke="#7d9c3f" stroke-width="0.90" stroke-linejoin="miter"/>
<path d="M337.20,271.00 L354.93,262.50 L390.39,262.00 L443.58,260.00 L496.77,252.00" stroke="#4275b6" stroke-width="3.2" fill="none" stroke-linejoin="round" stroke-linecap="round"/>
<polygon points="337.20,265.90 341.80,271.00 337.20,276.10 332.60,271.00" fill="#477dbd" stroke="#3a6aa6" stroke-width="0.90"/>
<polygon points="354.93,257.40 359.53,262.50 354.93,267.60 350.33,262.50" fill="#477dbd" stroke="#3a6aa6" stroke-width="0.90"/>
<polygon points="390.39,256.90 394.99,262.00 390.39,267.10 385.79,262.00" fill="#477dbd" stroke="#3a6aa6" stroke-width="0.90"/>
<polygon points="443.58,254.90 448.18,260.00 443.58,265.10 438.98,260.00" fill="#477dbd" stroke="#3a6aa6" stroke-width="0.90"/>
<polygon points="496.77,246.90 501.37,252.00 496.77,257.10 492.17,252.00" fill="#477dbd" stroke="#3a6aa6" stroke-width="0.90"/>
<path d="M337.20,270.80 L354.93,255.80 L390.39,253.80 L443.58,260.60 L496.77,259.20" stroke="#bf3f47" stroke-width="3.2" fill="none" stroke-linejoin="round" stroke-linecap="round"/>
<rect x="332.65" y="266.25" width="9.10" height="9.10" fill="#c9444b" stroke="#a9383d" stroke-width="0.90"/>
<rect x="350.38" y="251.25" width="9.10" height="9.10" fill="#c9444b" stroke="#a9383d" stroke-width="0.90"/>
<rect x="385.84" y="249.25" width="9.10" height="9.10" fill="#c9444b" stroke="#a9383d" stroke-width="0.90"/>
<rect x="439.03" y="256.05" width="9.10" height="9.10" fill="#c9444b" stroke="#a9383d" stroke-width="0.90"/>
<rect x="492.22" y="254.65" width="9.10" height="9.10" fill="#c9444b" stroke="#a9383d" stroke-width="0.90"/>
<path d="M337.20,270.00 L354.93,231.20 L390.39,232.30 L443.58,236.90 L496.77,222.10" stroke="#7857a0" stroke-width="3.2" fill="none" stroke-linejoin="round" stroke-linecap="round"/>
<path d="M332.60,265.40L341.80,274.60M341.80,265.40L332.60,274.60" stroke="#7d5ea5" stroke-width="1.60" fill="none"/>
<path d="M350.33,226.60L359.53,235.80M359.53,226.60L350.33,235.80" stroke="#7d5ea5" stroke-width="1.60" fill="none"/>
<path d="M385.79,227.70L394.99,236.90M394.99,227.70L385.79,236.90" stroke="#7d5ea5" stroke-width="1.60" fill="none"/>
<path d="M438.98,232.30L448.18,241.50M448.18,232.30L438.98,241.50" stroke="#7d5ea5" stroke-width="1.60" fill="none"/>
<path d="M492.17,217.50L501.37,226.70M501.37,217.50L492.17,226.70" stroke="#7d5ea5" stroke-width="1.60" fill="none"/>
<text x="330.2" y="179.60" text-anchor="middle" font-family="&apos;Liberation Sans&apos;, sans-serif" font-weight="bold" stroke="#000" stroke-width="0.3" font-size="7.4">Thousands</text>
<g transform="translate(0,228.20)"><text transform="translate(279.1,2) rotate(-90)" text-anchor="middle" font-family="&apos;Liberation Sans&apos;, sans-serif" font-weight="bold" stroke="#000" stroke-width="0.3" font-size="11.3">γH2AX foci</text><text transform="translate(292.6,0) rotate(-90)" text-anchor="middle" font-family="&apos;Liberation Sans&apos;, sans-serif" font-weight="bold" stroke="#000" stroke-width="0.3" font-size="11.3">fluorescence intensity</text><text transform="translate(307.4,0.8) rotate(-90)" text-anchor="middle" font-family="&apos;Liberation Sans&apos;, sans-serif" font-weight="bold" stroke="#000" stroke-width="0.3" font-size="11.8">(AU)</text></g>
<path d="M337.20,319.50V433.20H514.50" stroke="#787878" stroke-width="1.05" fill="none"/>
<path d="M334.00,433.20H337.20 M334.00,410.46H337.20 M334.00,387.72H337.20 M334.00,364.98H337.20 M334.00,342.24H337.20 M334.00,319.50H337.20 M337.20,430.80V435.80 M354.93,430.80V435.80 M372.66,430.80V435.80 M390.39,430.80V435.80 M408.12,430.80V435.80 M425.85,430.80V435.80 M443.58,430.80V435.80 M461.31,430.80V435.80 M479.04,430.80V435.80 M496.77,430.80V435.80 M514.50,430.80V435.80" stroke="#787878" stroke-width="1.0" fill="none"/>
<text x="329.00" y="436.35" text-anchor="end" font-family="&apos;Liberation Sans&apos;, sans-serif" font-weight="bold" stroke="#000" stroke-width="0.3" font-size="8.2">0</text>
<text x="329.00" y="413.61" text-anchor="end" font-family="&apos;Liberation Sans&apos;, sans-serif" font-weight="bold" stroke="#000" stroke-width="0.3" font-size="8.2">100</text>
<text x="329.00" y="390.87" text-anchor="end" font-family="&apos;Liberation Sans&apos;, sans-serif" font-weight="bold" stroke="#000" stroke-width="0.3" font-size="8.2">200</text>
<text x="329.00" y="368.13" text-anchor="end" font-family="&apos;Liberation Sans&apos;, sans-serif" font-weight="bold" stroke="#000" stroke-width="0.3" font-size="8.2">300</text>
<text x="329.00" y="345.39" text-anchor="end" font-family="&apos;Liberation Sans&apos;, sans-serif" font-weight="bold" stroke="#000" stroke-width="0.3" font-size="8.2">400</text>
<text x="329.00" y="322.65" text-anchor="end" font-family="&apos;Liberation Sans&apos;, sans-serif" font-weight="bold" stroke="#000" stroke-width="0.3" font-size="8.2">500</text>
<text x="337.20" y="446.40" text-anchor="middle" font-family="&apos;Liberation Sans&apos;, sans-serif" font-weight="bold" stroke="#000" stroke-width="0.3" font-size="8.2">0</text>
<text x="354.93" y="446.40" text-anchor="middle" font-family="&apos;Liberation Sans&apos;, sans-serif" font-weight="bold" stroke="#000" stroke-width="0.3" font-size="8.2">8</text>
<text x="372.66" y="446.40" text-anchor="middle" font-family="&apos;Liberation Sans&apos;, sans-serif" font-weight="bold" stroke="#000" stroke-width="0.3" font-size="8.2">16</text>
<text x="390.39" y="446.40" text-anchor="middle" font-family="&apos;Liberation Sans&apos;, sans-serif" font-weight="bold" stroke="#000" stroke-width="0.3" font-size="8.2">24</text>
<text x="408.12" y="446.40" text-anchor="middle" font-family="&apos;Liberation Sans&apos;, sans-serif" font-weight="bold" stroke="#000" stroke-width="0.3" font-size="8.2">32</text>
<text x="425.85" y="446.40" text-anchor="middle" font-family="&apos;Liberation Sans&apos;, sans-serif" font-weight="bold" stroke="#000" stroke-width="0.3" font-size="8.2">40</text>
<text x="443.58" y="446.40" text-anchor="middle" font-family="&apos;Liberation Sans&apos;, sans-serif" font-weight="bold" stroke="#000" stroke-width="0.3" font-size="8.2">48</text>
<text x="461.31" y="446.40" text-anchor="middle" font-family="&apos;Liberation Sans&apos;, sans-serif" font-weight="bold" stroke="#000" stroke-width="0.3" font-size="8.2">56</text>
<text x="479.04" y="446.40" text-anchor="middle" font-family="&apos;Liberation Sans&apos;, sans-serif" font-weight="bold" stroke="#000" stroke-width="0.3" font-size="8.2">64</text>
<text x="496.77" y="446.40" text-anchor="middle" font-family="&apos;Liberation Sans&apos;, sans-serif" font-weight="bold" stroke="#000" stroke-width="0.3" font-size="8.2">72</text>
<text x="514.50" y="446.40" text-anchor="middle" font-family="&apos;Liberation Sans&apos;, sans-serif" font-weight="bold" stroke="#000" stroke-width="0.3" font-size="8.2">80</text>
<text x="352.40" y="322.70" font-family="&apos;Liberation Sans&apos;, sans-serif" font-weight="bold" stroke="#000" stroke-width="0.3" font-size="11.7">5FU</text>
<path d="M337.20,427.00 L354.93,428.50 L390.39,421.50 L443.58,412.00 L496.77,408.70" stroke="#8eae4c" stroke-width="3.2" fill="none" stroke-linejoin="round" stroke-linecap="round"/>
<polygon points="332.30,431.65 342.10,431.65 337.20,422.35" fill="#95b853" stroke="#7d9c3f" stroke-width="0.90" stroke-linejoin="miter"/>
<polygon points="350.03,433.15 359.83,433.15 354.93,423.85" fill="#95b853" stroke="#7d9c3f" stroke-width="0.90" stroke-linejoin="miter"/>
<polygon points="385.49,426.15 395.29,426.15 390.39,416.85" fill="#95b853" stroke="#7d9c3f" stroke-width="0.90" stroke-linejoin="miter"/>
<polygon points="438.68,416.65 448.48,416.65 443.58,407.35" fill="#95b853" stroke="#7d9c3f" stroke-width="0.90" stroke-linejoin="miter"/>
<polygon points="491.87,413.35 501.67,413.35 496.77,404.05" fill="#95b853" stroke="#7d9c3f" stroke-width="0.90" stroke-linejoin="miter"/>
<path d="M337.20,423.00 L354.93,420.00 L390.39,414.40 L443.58,408.70 L496.77,403.50" stroke="#4275b6" stroke-width="3.2" fill="none" stroke-linejoin="round" stroke-linecap="round"/>
<polygon points="337.20,417.90 341.80,423.00 337.20,428.10 332.60,423.00" fill="#477dbd" stroke="#3a6aa6" stroke-width="0.90"/>
<polygon points="354.93,414.90 359.53,420.00 354.93,425.10 350.33,420.00" fill="#477dbd" stroke="#3a6aa6" stroke-width="0.90"/>
<polygon points="390.39,409.30 394.99,414.40 390.39,419.50 385.79,414.40" fill="#477dbd" stroke="#3a6aa6" stroke-width="0.90"/>
<polygon points="443.58,403.60 448.18,408.70 443.58,413.80 438.98,408.70" fill="#477dbd" stroke="#3a6aa6" stroke-width="0.90"/>
<polygon points="496.77,398.40 501.37,403.50 496.77,408.60 492.17,403.50" fill="#477dbd" stroke="#3a6aa6" stroke-width="0.90"/>
<path d="M337.20,424.00 L354.93,424.60 L390.39,416.80 L443.58,416.30 L496.77,412.00" stroke="#bf3f47" stroke-width="3.2" fill="none" stroke-linejoin="round" stroke-linecap="round"/>
<rect x="332.65" y="419.45" width="9.10" height="9.10" fill="#c9444b" stroke="#a9383d" stroke-width="0.90"/>
<rect x="350.38" y="420.05" width="9.10" height="9.10" fill="#c9444b" stroke="#a9383d" stroke-width="0.90"/>
<rect x="385.84" y="412.25" width="9.10" height="9.10" fill="#c9444b" stroke="#a9383d" stroke-width="0.90"/>
<rect x="439.03" y="411.75" width="9.10" height="9.10" fill="#c9444b" stroke="#a9383d" stroke-width="0.90"/>
<rect x="492.22" y="407.45" width="9.10" height="9.10" fill="#c9444b" stroke="#a9383d" stroke-width="0.90"/>
<path d="M337.20,422.00 L354.93,415.80 L390.39,413.50 L443.58,381.80 L496.77,402.30" stroke="#7857a0" stroke-width="3.2" fill="none" stroke-linejoin="round" stroke-linecap="round"/>
<path d="M332.60,417.40L341.80,426.60M341.80,417.40L332.60,426.60" stroke="#7d5ea5" stroke-width="1.60" fill="none"/>
<path d="M350.33,411.20L359.53,420.40M359.53,411.20L350.33,420.40" stroke="#7d5ea5" stroke-width="1.60" fill="none"/>
<path d="M385.79,408.90L394.99,418.10M394.99,408.90L385.79,418.10" stroke="#7d5ea5" stroke-width="1.60" fill="none"/>
<path d="M438.98,377.20L448.18,386.40M448.18,377.20L438.98,386.40" stroke="#7d5ea5" stroke-width="1.60" fill="none"/>
<path d="M492.17,397.70L501.37,406.90M501.37,397.70L492.17,406.90" stroke="#7d5ea5" stroke-width="1.60" fill="none"/>
<text x="330.2" y="330.00" text-anchor="middle" font-family="&apos;Liberation Sans&apos;, sans-serif" font-weight="bold" stroke="#000" stroke-width="0.3" font-size="7.4">Thousands</text>
<g transform="translate(0,370.20)"><text transform="translate(279.1,2) rotate(-90)" text-anchor="middle" font-family="&apos;Liberation Sans&apos;, sans-serif" font-weight="bold" stroke="#000" stroke-width="0.3" font-size="11.3">γH2AX foci</text><text transform="translate(292.6,0) rotate(-90)" text-anchor="middle" font-family="&apos;Liberation Sans&apos;, sans-serif" font-weight="bold" stroke="#000" stroke-width="0.3" font-size="11.3">fluorescence intensity</text><text transform="translate(307.4,0.8) rotate(-90)" text-anchor="middle" font-family="&apos;Liberation Sans&apos;, sans-serif" font-weight="bold" stroke="#000" stroke-width="0.3" font-size="11.8">(AU)</text></g>
<path d="M337.40,469.60V583.50H514.70" stroke="#787878" stroke-width="1.05" fill="none"/>
<path d="M334.20,583.50H337.40 M334.20,560.72H337.40 M334.20,537.94H337.40 M334.20,515.16H337.40 M334.20,492.38H337.40 M334.20,469.60H337.40 M337.40,581.10V586.10 M355.13,581.10V586.10 M372.86,581.10V586.10 M390.59,581.10V586.10 M408.32,581.10V586.10 M426.05,581.10V586.10 M443.78,581.10V586.10 M461.51,581.10V586.10 M479.24,581.10V586.10 M496.97,581.10V586.10 M514.70,581.10V586.10" stroke="#787878" stroke-width="1.0" fill="none"/>
<text x="329.20" y="586.65" text-anchor="end" font-family="&apos;Liberation Sans&apos;, sans-serif" font-weight="bold" stroke="#000" stroke-width="0.3" font-size="8.2">0</text>
<text x="329.20" y="563.87" text-anchor="end" font-family="&apos;Liberation Sans&apos;, sans-serif" font-weight="bold" stroke="#000" stroke-width="0.3" font-size="8.2">100</text>
<text x="329.20" y="541.09" text-anchor="end" font-family="&apos;Liberation Sans&apos;, sans-serif" font-weight="bold" stroke="#000" stroke-width="0.3" font-size="8.2">200</text>
<text x="329.20" y="518.31" text-anchor="end" font-family="&apos;Liberation Sans&apos;, sans-serif" font-weight="bold" stroke="#000" stroke-width="0.3" font-size="8.2">300</text>
<text x="329.20" y="495.53" text-anchor="end" font-family="&apos;Liberation Sans&apos;, sans-serif" font-weight="bold" stroke="#000" stroke-width="0.3" font-size="8.2">400</text>
<text x="329.20" y="472.75" text-anchor="end" font-family="&apos;Liberation Sans&apos;, sans-serif" font-weight="bold" stroke="#000" stroke-width="0.3" font-size="8.2">500</text>
<text x="337.40" y="596.40" text-anchor="middle" font-family="&apos;Liberation Sans&apos;, sans-serif" font-weight="bold" stroke="#000" stroke-width="0.3" font-size="8.2">0</text>
<text x="355.13" y="596.40" text-anchor="middle" font-family="&apos;Liberation Sans&apos;, sans-serif" font-weight="bold" stroke="#000" stroke-width="0.3" font-size="8.2">8</text>
<text x="372.86" y="596.40" text-anchor="middle" font-family="&apos;Liberation Sans&apos;, sans-serif" font-weight="bold" stroke="#000" stroke-width="0.3" font-size="8.2">16</text>
<text x="390.59" y="596.40" text-anchor="middle" font-family="&apos;Liberation Sans&apos;, sans-serif" font-weight="bold" stroke="#000" stroke-width="0.3" font-size="8.2">24</text>
<text x="408.32" y="596.40" text-anchor="middle" font-family="&apos;Liberation Sans&apos;, sans-serif" font-weight="bold" stroke="#000" stroke-width="0.3" font-size="8.2">32</text>
<text x="426.05" y="596.40" text-anchor="middle" font-family="&apos;Liberation Sans&apos;, sans-serif" font-weight="bold" stroke="#000" stroke-width="0.3" font-size="8.2">40</text>
<text x="443.78" y="596.40" text-anchor="middle" font-family="&apos;Liberation Sans&apos;, sans-serif" font-weight="bold" stroke="#000" stroke-width="0.3" font-size="8.2">48</text>
<text x="461.51" y="596.40" text-anchor="middle" font-family="&apos;Liberation Sans&apos;, sans-serif" font-weight="bold" stroke="#000" stroke-width="0.3" font-size="8.2">56</text>
<text x="479.24" y="596.40" text-anchor="middle" font-family="&apos;Liberation Sans&apos;, sans-serif" font-weight="bold" stroke="#000" stroke-width="0.3" font-size="8.2">64</text>
<text x="496.97" y="596.40" text-anchor="middle" font-family="&apos;Liberation Sans&apos;, sans-serif" font-weight="bold" stroke="#000" stroke-width="0.3" font-size="8.2">72</text>
<text x="514.70" y="596.40" text-anchor="middle" font-family="&apos;Liberation Sans&apos;, sans-serif" font-weight="bold" stroke="#000" stroke-width="0.3" font-size="8.2">80</text>
<text x="352.40" y="475.80" font-family="&apos;Liberation Sans&apos;, sans-serif" font-weight="bold" stroke="#000" stroke-width="0.3" font-size="11.7">PARPi+5FU</text>
<path d="M337.40,578.50 L355.13,577.00 L390.59,561.90 L443.78,556.30 L496.97,547.70" stroke="#8eae4c" stroke-width="3.2" fill="none" stroke-linejoin="round" stroke-linecap="round"/>
<polygon points="332.50,583.15 342.30,583.15 337.40,573.85" fill="#95b853" stroke="#7d9c3f" stroke-width="0.90" stroke-linejoin="miter"/>
<polygon points="350.23,581.65 360.03,581.65 355.13,572.35" fill="#95b853" stroke="#7d9c3f" stroke-width="0.90" stroke-linejoin="miter"/>
<polygon points="385.69,566.55 395.49,566.55 390.59,557.25" fill="#95b853" stroke="#7d9c3f" stroke-width="0.90" stroke-linejoin="miter"/>
<polygon points="438.88,560.95 448.68,560.95 443.78,551.65" fill="#95b853" stroke="#7d9c3f" stroke-width="0.90" stroke-linejoin="miter"/>
<polygon points="492.07,552.35 501.87,552.35 496.97,543.05" fill="#95b853" stroke="#7d9c3f" stroke-width="0.90" stroke-linejoin="miter"/>
<path d="M337.40,574.00 L355.13,561.00 L390.59,545.20 L443.78,522.80 L496.97,534.50" stroke="#4275b6" stroke-width="3.2" fill="none" stroke-linejoin="round" stroke-linecap="round"/>
<polygon points="337.40,568.90 342.00,574.00 337.40,579.10 332.80,574.00" fill="#477dbd" stroke="#3a6aa6" stroke-width="0.90"/>
<polygon points="355.13,555.90 359.73,561.00 355.13,566.10 350.53,561.00" fill="#477dbd" stroke="#3a6aa6" stroke-width="0.90"/>
<polygon points="390.59,540.10 395.19,545.20 390.59,550.30 385.99,545.20" fill="#477dbd" stroke="#3a6aa6" stroke-width="0.90"/>
<polygon points="443.78,517.70 448.38,522.80 443.78,527.90 439.18,522.80" fill="#477dbd" stroke="#3a6aa6" stroke-width="0.90"/>
<polygon points="496.97,529.40 501.57,534.50 496.97,539.60 492.37,534.50" fill="#477dbd" stroke="#3a6aa6" stroke-width="0.90"/>
<path d="M337.40,574.00 L355.13,561.50 L390.59,555.40 L443.78,547.70 L496.97,546.60" stroke="#bf3f47" stroke-width="3.2" fill="none" stroke-linejoin="round" stroke-linecap="round"/>
<rect x="332.85" y="569.45" width="9.10" height="9.10" fill="#c9444b" stroke="#a9383d" stroke-width="0.90"/>
<rect x="350.58" y="556.95" width="9.10" height="9.10" fill="#c9444b" stroke="#a9383d" stroke-width="0.90"/>
<rect x="386.04" y="550.85" width="9.10" height="9.10" fill="#c9444b" stroke="#a9383d" stroke-width="0.90"/>
<rect x="439.23" y="543.15" width="9.10" height="9.10" fill="#c9444b" stroke="#a9383d" stroke-width="0.90"/>
<rect x="492.42" y="542.05" width="9.10" height="9.10" fill="#c9444b" stroke="#a9383d" stroke-width="0.90"/>
<path d="M337.40,574.00 L355.13,559.60 L390.59,534.20 L443.78,479.60 L496.97,502.80" stroke="#7857a0" stroke-width="3.2" fill="none" stroke-linejoin="round" stroke-linecap="round"/>
<path d="M332.80,569.40L342.00,578.60M342.00,569.40L332.80,578.60" stroke="#7d5ea5" stroke-width="1.60" fill="none"/>
<path d="M350.53,555.00L359.73,564.20M359.73,555.00L350.53,564.20" stroke="#7d5ea5" stroke-width="1.60" fill="none"/>
<path d="M385.99,529.60L395.19,538.80M395.19,529.60L385.99,538.80" stroke="#7d5ea5" stroke-width="1.60" fill="none"/>
<path d="M439.18,475.00L448.38,484.20M448.38,475.00L439.18,484.20" stroke="#7d5ea5" stroke-width="1.60" fill="none"/>
<path d="M492.37,498.20L501.57,507.40M501.57,498.20L492.37,507.40" stroke="#7d5ea5" stroke-width="1.60" fill="none"/>
<text x="330.2" y="481.50" text-anchor="middle" font-family="&apos;Liberation Sans&apos;, sans-serif" font-weight="bold" stroke="#000" stroke-width="0.3" font-size="7.4">Thousands</text>
<g transform="translate(0,528.90)"><text transform="translate(279.1,2) rotate(-90)" text-anchor="middle" font-family="&apos;Liberation Sans&apos;, sans-serif" font-weight="bold" stroke="#000" stroke-width="0.3" font-size="11.3">γH2AX foci</text><text transform="translate(292.6,0) rotate(-90)" text-anchor="middle" font-family="&apos;Liberation Sans&apos;, sans-serif" font-weight="bold" stroke="#000" stroke-width="0.3" font-size="11.3">fluorescence intensity</text><text transform="translate(307.4,0.8) rotate(-90)" text-anchor="middle" font-family="&apos;Liberation Sans&apos;, sans-serif" font-weight="bold" stroke="#000" stroke-width="0.3" font-size="11.8">(AU)</text></g>
<path d="M429,26H456" stroke="#95b853" stroke-width="2.6"/>
<polygon points="439.56,28.88 445.64,28.88 442.60,23.12" fill="#95b853" stroke="#7d9c3f" stroke-width="0.56" stroke-linejoin="miter"/>
<text x="457.6" y="29.40" font-family="&apos;Liberation Sans&apos;, sans-serif" font-weight="bold" stroke="#000" stroke-width="0.3" font-size="9">G<tspan dy="2.6" font-size="7">1</tspan></text>
<path d="M429,41.8H456" stroke="#477dbd" stroke-width="2.6"/>
<polygon points="442.60,38.64 445.45,41.80 442.60,44.96 439.75,41.80" fill="#477dbd" stroke="#3a6aa6" stroke-width="0.56"/>
<text x="457.6" y="45.20" font-family="&apos;Liberation Sans&apos;, sans-serif" font-weight="bold" stroke="#000" stroke-width="0.3" font-size="9">G<tspan dy="2.6" font-size="7">2</tspan></text>
<path d="M429,58H456" stroke="#c9444b" stroke-width="2.6"/>
<rect x="439.78" y="55.18" width="5.64" height="5.64" fill="#c9444b" stroke="#a9383d" stroke-width="0.56"/>
<text x="457.6" y="61.40" font-family="&apos;Liberation Sans&apos;, sans-serif" font-weight="bold" stroke="#000" stroke-width="0.3" font-size="9">EdU<tspan dy="-3.2" font-size="6.2">+</tspan></text>
<path d="M429,73.8H456" stroke="#7d5ea5" stroke-width="2.6"/>
<path d="M439.75,70.95L445.45,76.65M445.45,70.95L439.75,76.65" stroke="#7d5ea5" stroke-width="0.99" fill="none"/>
<text x="457.6" y="77.20" font-family="&apos;Liberation Sans&apos;, sans-serif" font-weight="bold" stroke="#000" stroke-width="0.3" font-size="9">S-phase EdU<tspan dy="-3.2" font-size="6.2">−</tspan></text>
</svg>
</body></html>
